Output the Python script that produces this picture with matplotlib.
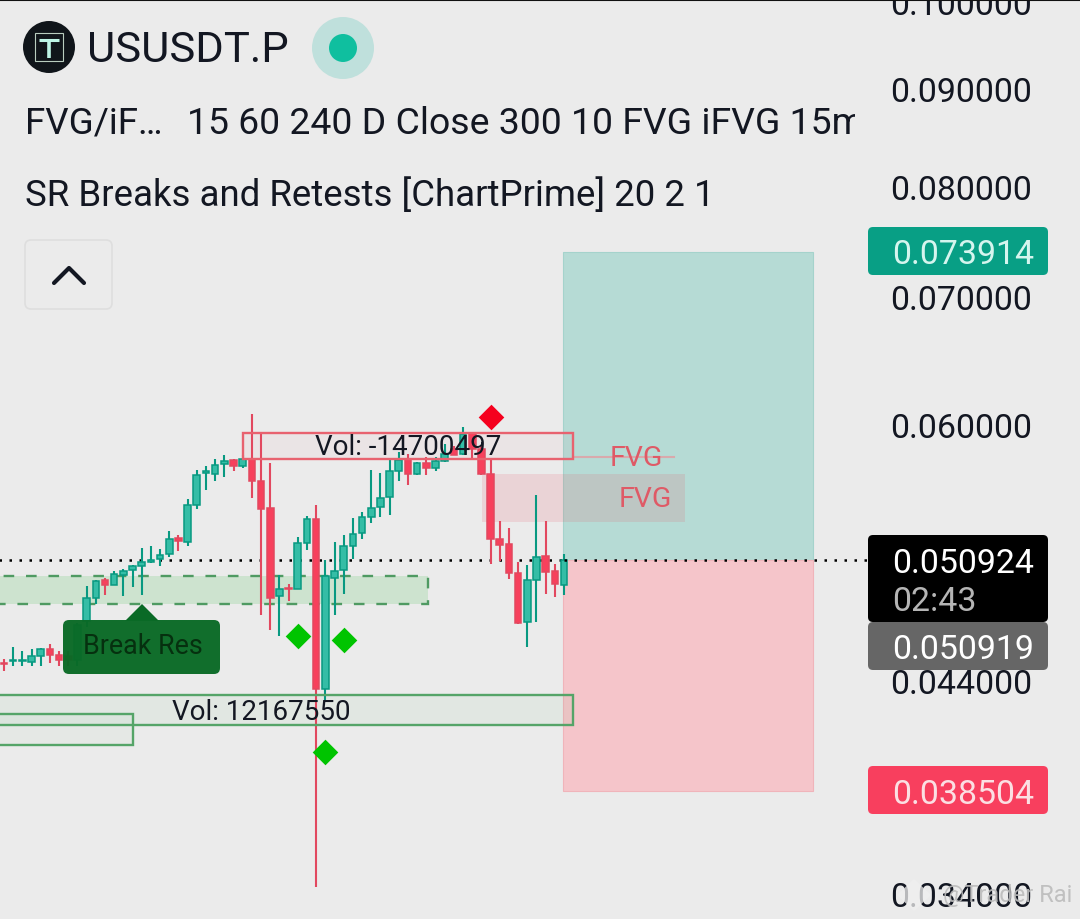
#!/usr/bin/env python3
"""
USUSDT.P mobile chart screenshot: candles, SR zones, FVG boxes and a long position
"""

import numpy as np
import matplotlib
matplotlib.use("Agg")
import matplotlib.pyplot as plt
from matplotlib.patches import Circle, FancyBboxPatch, Polygon, Rectangle
from matplotlib.transforms import Bbox, TransformedBbox

plt.rcParams['font.family'] = ['Roboto', 'DejaVu Sans']

# candles
opens = [.04495, .04504, .04504, .04500, .04531, .04572, .04536, .04531, .04513, .04728,
         .04863, .04967, .04941, .04997, .05029, .05053, .05078, .05095, .05126, .05227,
         .05206, .05439, .05659, .05650, .05720, .05745, .05701, .05750, .05600, .05422,
         .04873, .04921, .04917, .05196, .05349, .04357, .04983, .05029, .05177, .05259,
         .05363, .05428, .05493, .05670, .05755, .05647, .05725, .05690, .05739, .05826,
         .05790, .05936, .05826, .05650, .05223, .05189, .05011, .04724, .04969, .05114,
         .05023, .04941]
highs = [.04518, .04585, .04558, .04572, .04576, .04599, .04558, .04558, .04720, .04933,
         .04967, .04981, .05021, .05037, .05061, .05166, .05181, .05160, .05274, .05248,
         .05482, .05679, .05704, .05750, .05783, .05750, .05778, .06077, .05938, .05726,
         .04997, .04947, .05233, .05370, .05443, .05091, .05202, .05248, .05357, .05396,
         .05679, .05659, .05743, .05802, .05790, .05732, .05767, .05767, .05861, .05842,
         .05980, .05943, .05849, .05755, .05340, .05291, .05078, .05061, .05509, .05340,
         .05067, .05130]
lows = [.04454, .04476, .04476, .04476, .04476, .04495, .04481, .04481, .04481, .04695,
        .04829, .04883, .04937, .04877, .04925, .04883, .05074, .05057, .05108, .05149,
        .05181, .05413, .05538, .05600, .05627, .05668, .05690, .05491, .04762, .04676,
        .04644, .04844, .04913, .05156, .03430, .04289, .04766, .04887, .05099, .05223,
        .05325, .05361, .05379, .05605, .05572, .05640, .05645, .05668, .05732, .05778,
        .05778, .05755, .05645, .05067, .05086, .04977, .04714, .04585, .04724, .04887,
        .04867, .04881]
closes = [.04492, .04511, .04511, .04531, .04572, .04536, .04513, .04513, .04705, .04861,
          .04961, .04937, .05003, .05027, .05053, .05076, .05093, .05124, .05223, .05210,
          .05439, .05640, .05668, .05708, .05736, .05701, .05750, .05602, .05417, .04863,
          .04913, .04913, .05196, .05353, .04357, .04993, .05025, .05181, .05255, .05363,
          .05422, .05491, .05668, .05743, .05647, .05725, .05692, .05739, .05790, .05783,
          .05931, .05826, .05650, .05223, .05187, .05011, .04720, .04967, .05112, .05017,
          .04943, .05092]

price_ticks = [0.1, 0.09, 0.08, 0.07, 0.06, 0.044, 0.034]
tick_labels = ['0.100000', '0.090000', '0.080000', '0.070000', '0.060000', '0.044000', '0.034000']

entry_price = 0.050924
target_price = 0.073914
stop_price = 0.038504
mark_price = 0.050919
countdown = '02:43'

# markers as (bar, price)
green_diamonds = [(32, .04645), (37, .04623), (35, .04037)]
red_diamonds = [(53, .06054)]

green_col = '#089981'
green_fill = '#35bda6'
red_col = '#e2485f'
red_fill = '#f7405c'
bg = '#ebebeb'

fig = plt.figure(figsize=(10.8, 9.2), dpi=100, facecolor=bg)

# main axes fills the whole screenshot, 9.18 px per bar and log price
ax = fig.add_axes([0, 0, 1, 1], facecolor=bg)
ax.set_xlim(-0.436, 117.2)
ax.set_yscale('log')
ax.set_ylim(0.03298, 0.10035)
for side in ax.spines.values():
    side.set_visible(False)
ax.set_xticks([])
ax.minorticks_off()
ax.yaxis.tick_right()
ax.set_yticks(price_ticks)
ax.set_yticklabels(tick_labels)
ax.yaxis.set_tick_params(which='minor', length=0, labelright=False)
ax.tick_params(axis='y', length=0, pad=-136.8, labelsize=24.4, labelcolor='#131722')

# long position boxes
ax.add_patch(Rectangle((60.9, entry_price), 27.2, target_price - entry_price, fc='#b6dbd5',
                       ec='#a5d3cc', lw=0.8, zorder=1))
ax.add_patch(Rectangle((60.9, stop_price), 27.2, entry_price - stop_price, fc='#f5c5ca',
                       ec='#f0b4ba', lw=0.8, zorder=1))

# SR zones
ax.add_patch(Rectangle((-1, .04829), 47.2, .04994 - .04829, fc='#cde3cf', ec='#4f9a62', lw=1.7,
                       ls=(0, (4.5, 5)), zorder=1.5))
ax.add_patch(Rectangle((26.03, .05754), 35.95, .05937 - .05754, fc='#e8505f', alpha=0.04, zorder=1.5))
ax.add_patch(Rectangle((26.03, .05754), 35.95, .05937 - .05754, fc='none', ec='#e8626f', lw=1.7, zorder=4))
ax.add_patch(Rectangle((-1, .04171), 62.98, .04325 - .04171, fc='#2e9e45', alpha=0.05, zorder=1.5))
ax.add_patch(Rectangle((-1, .04171), 62.98, .04325 - .04171, fc='none', ec='#55a468', lw=1.7, zorder=4))
ax.add_patch(Rectangle((-1, .04072), 15.05, .04227 - .04072, fc='#2e9e45', alpha=0.03, zorder=1.5))
ax.add_patch(Rectangle((-1, .04072), 15.05, .04227 - .04072, fc='none', ec='#55a468', lw=1.7, zorder=4))

# FVG boxes
ax.add_patch(Rectangle((52.1, .05331), 22.1, .05651 - .05331, fc='#e8505f', alpha=0.15, lw=0, zorder=1.8))
ax.plot([62, 73], [.05768, .05768], color='#d9a9ac', lw=1.5, zorder=1.8)
ax.text(71.8, .05760, 'FVG', color='#df5a66', fontsize=20.5, ha='right', va='center', zorder=5)
ax.text(72.8, .05485, 'FVG', color='#df5a66', fontsize=20.5, ha='right', va='center', zorder=5)

# dotted last price line
ax.plot([-1, 61], [entry_price, entry_price], color='black', lw=1.8, ls=(0, (1, 3)), zorder=2)
ax.plot([61, 94], [entry_price, entry_price], color='black', lw=1.8, ls=(0, (1, 3)), zorder=6)

# candles
bars = np.arange(len(opens))
opens = np.array(opens)
closes = np.array(closes)
up = closes >= opens
wick_cols = [green_col if u else red_col for u in up]
ax.vlines(bars, lows, highs, colors=wick_cols, lw=1.5, zorder=3)
ax.bar(bars, np.abs(closes - opens), bottom=np.minimum(opens, closes), width=0.72,
       color=[green_fill if u else red_fill for u in up],
       edgecolor=wick_cols, linewidth=1.1, zorder=3.2)

# signals
ax.scatter(*zip(*green_diamonds), marker='D', s=170, color='#00c400', linewidths=0, zorder=5)
ax.scatter(*zip(*red_diamonds), marker='D', s=170, color='#f5001e', linewidths=0, zorder=5)

ax.text(44, .05840, 'Vol: -14700497', fontsize=20, color='#131722', ha='center', va='center', zorder=6)
ax.text(28, .04238, 'Vol: 12167550', fontsize=20, color='#131722', ha='center', va='center', zorder=6)

# everything that sits on the screen rather than the chart, in pixels
ui = fig.add_axes([0, 0, 1, 1], facecolor='none')
ui.set_xlim(0, 1080)
ui.set_ylim(920, 0)
ui.axis('off')


def label_box(x0, y0, x1, y1, color, alpha=1.0, r=5):
    ui.add_patch(FancyBboxPatch((x0 + r, y0 + r), x1 - x0 - 2 * r, y1 - y0 - 2 * r,
                                boxstyle=f'round,pad={r},rounding_size={r}',
                                fc=color, ec='none', alpha=alpha))


ui.plot([0, 1080], [0.5, 0.5], color='#111111', lw=1.5)

# header
ui.add_patch(Circle((49, 48), 26, fc='#10151a', ec='none'))
ui.add_patch(Rectangle((35, 34), 28, 28, fc='none', ec='#b9cdbf', lw=0.8))
ui.plot([39, 59], [41, 41], color='#bdf5e6', lw=2.2, solid_capstyle='butt')
ui.plot([49, 49], [41, 59], color='#bdf5e6', lw=2.6, solid_capstyle='butt')
ui.text(87, 50, 'USUSDT.P', fontsize=31.3, color='#131722', va='center', ha='left')
ui.add_patch(Circle((343, 49), 31, fc='#bfe0dc', ec='none'))
ui.add_patch(Circle((343, 49), 14, fc='#0fbf9f', ec='none'))

ui.text(25, 124, 'FVG/iF…', fontsize=26.5, color='#131722', va='center', ha='left')
row2 = ui.text(187, 124, '15 60 240 D Close 300 10 FVG iFVG 15m', fontsize=26.9,
               color='#131722', va='center', ha='left')
row2.set_clip_box(TransformedBbox(Bbox([[0, 0], [855, 920]]), ui.transData))
row2.set_clip_on(True)
ui.text(25, 196, 'SR Breaks and Retests [ChartPrime] 20 2 1', fontsize=26.4, color='#131722',
        va='center', ha='left')

# collapse button
ui.add_patch(FancyBboxPatch((31, 247), 75, 57, boxstyle='round,pad=6,rounding_size=6',
                            fc=bg, ec='#dedede', lw=1.2))
ui.plot([54, 69, 84], [284, 269, 284], color='#131722', lw=3, solid_capstyle='round',
        solid_joinstyle='round')

# Break Res label
label_box(63, 621, 220, 675, '#0a6a26', alpha=0.97, r=6)
ui.add_patch(Polygon([[125, 622], [142, 605], [159, 622]], fc='#0a6a26', ec='none'))
ui.text(143, 647, 'Break Res', fontsize=19.4, color='#06300f', ha='center', va='center')

# price labels
label_box(868, 228, 1048, 276, '#089f85')
ui.text(892, 255, f'{target_price:.6f}', fontsize=24.4, color='#d5f5ee', va='center', ha='left')
label_box(868, 536, 1048, 623, '#000000')
ui.text(892, 564, f'{entry_price:.6f}', fontsize=24.4, color='white', va='center', ha='left')
ui.text(892, 602, countdown, fontsize=24.4, color='#b5b5b5', va='center', ha='left')
label_box(868, 623, 1048, 671, '#666666')
ui.text(892, 650, f'{mark_price:.6f}', fontsize=24.4, color='white', va='center', ha='left')
label_box(868, 767, 1048, 815, '#f83f5e')
ui.text(892, 795, f'{stop_price:.6f}', fontsize=24.4, color='#fbdfe3', va='center', ha='left')

# watermark
ui.add_patch(Polygon([[914, 880], [931, 896], [914, 912], [897, 896]], fc='#f0f0f0', alpha=0.75, ec='none'))
ui.text(1072, 896, '@Trader Rai', fontsize=17, color='#bcbcbc', alpha=0.9, ha='right', va='center')

plt.savefig('out.png', dpi=100, facecolor=bg)
